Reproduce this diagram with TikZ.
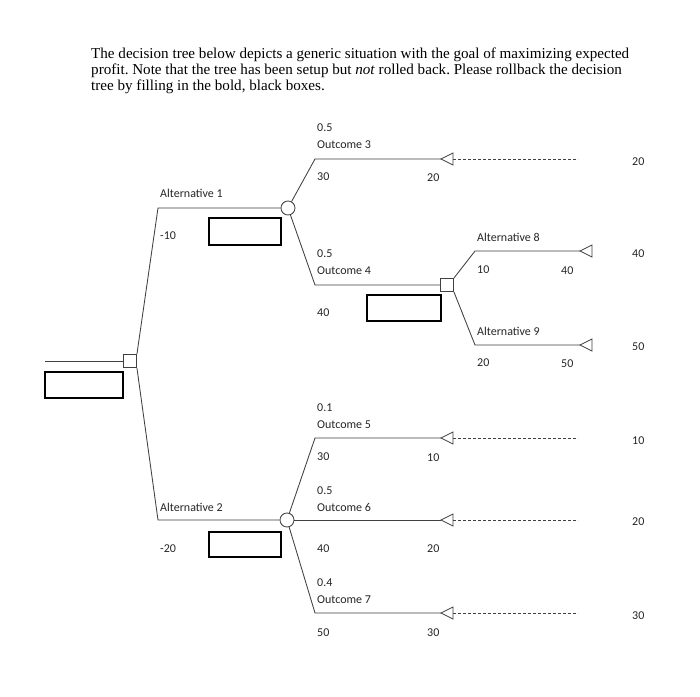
\documentclass[tikz,border=0pt]{standalone}
\usepackage{fontspec}
\setmainfont{Liberation Serif}
\newfontfamily\labfont{Carlito}
\frenchspacing
\begin{document}
\begin{tikzpicture}[x=1pt,y=-1pt,
  conn/.style={draw=black!75, line width=0.85pt},
  dashconn/.style={draw=black!75, line width=0.85pt, dash pattern=on 3pt off 2pt},
  lbl/.style={anchor=west, inner sep=0pt, font=\labfont\fontsize{12}{14}\selectfont, text=black!85},
  title/.style={anchor=base west, inner sep=0pt, font=\fontsize{15.1}{16}\selectfont},
  decision/.style={draw=black!75, line width=0.85pt, fill=white, rectangle, minimum size=13pt, inner sep=0pt},
  chance/.style={draw=black!75, line width=0.85pt, fill=white, circle, minimum size=14pt, inner sep=0pt},
  bbox/.style={draw=black, line width=2.5pt, rectangle, inner sep=0pt},
  term/.style={draw=black!75, line width=0.85pt, fill=white}
]
\useasboundingbox (0,0) rectangle (700,696);
\fill[white] (0,0) rectangle (700,696);

% title
\node[title] (t1) at (91,58) {The decision tree below depicts a generic situation with the goal of maximizing expected};
\node[title] (t2) at (91,74) {profit. Note that the tree has been setup but \textit{not} rolled back. Please rollback the decision};
\node[title] (t3) at (91,90) {tree by filling in the bold, black boxes.};

% nodes
\node[decision] (root) at (130,361) {};
\coordinate (in) at (45,361);
\coordinate (a1) at (158,208);
\coordinate (a2) at (158,520);
\node[chance] (c1) at (288,208) {};
\node[chance] (c2) at (287,520) {};
\node[decision] (d2) at (447,285) {};

\coordinate (o3) at (315,159);
\coordinate (o4) at (315,285);
\coordinate (o5) at (315,438);
\coordinate (o7) at (315,613);
\coordinate (a8) at (475,251);
\coordinate (a9) at (475,345);

% terminal tips
\coordinate (tp3) at (441,159);
\coordinate (tp5) at (441,438);
\coordinate (tp6) at (441,520);
\coordinate (tp7) at (441,613);
\coordinate (tp8) at (580,251);
\coordinate (tp9) at (580,345);
\coordinate (e3) at (578,159);
\coordinate (e5) at (578,438);
\coordinate (e6) at (578,520);
\coordinate (e7) at (578,613);

% connectors
\draw[conn] (in) -- (root.west);
\draw[conn] (root.north east) -- (a1) -- (c1);
\draw[conn] (root.south east) -- (a2) -- (c2);
\draw[conn] (c1) -- (o3) -- (tp3);
\draw[conn] (c1) -- (o4) -- (d2);
\draw[conn] (d2.north east) -- (a8) -- (tp8);
\draw[conn] (d2.south east) -- (a9) -- (tp9);
\draw[conn] (c2) -- (o5) -- (tp5);
\draw[conn] (c2) -- (tp6);
\draw[conn] (c2) -- (o7) -- (tp7);

% terminal triangles and dashed lines
\foreach \t in {tp3,tp5,tp6,tp7,tp8,tp9}{
  \draw[term] (\t) -- ++(12,-6) -- ++(0,12) -- cycle;
}
\draw[dashconn] ([xshift=12pt]tp3) -- (e3);
\draw[dashconn] ([xshift=12pt]tp5) -- (e5);
\draw[dashconn] ([xshift=12pt]tp6) -- (e6);
\draw[dashconn] ([xshift=12pt]tp7) -- (e7);

% bold boxes
\node[bbox, minimum width=78pt, minimum height=26pt] (b0) at (84,385) {};
\node[bbox, minimum width=72pt, minimum height=27pt] (b1) at (245,231.5) {};
\node[bbox, minimum width=74pt, minimum height=26pt] (b2) at (404,308) {};
\node[bbox, minimum width=72pt, minimum height=25pt] (b3) at (245,544.5) {};

% labels
\node[lbl] (l1) at (160,193) {Alternative 1};
\node[lbl] (l2) at (160,236) {-10};
\node[lbl] (l3) at (160,507) {Alternative 2};
\node[lbl] (l4) at (160,549) {-20};

\node[lbl] (p3) at (317,128) {0.5};
\node[lbl] (n3) at (317,145) {Outcome 3};
\node[lbl] (v3) at (317,177) {30};
\node[lbl] (s3) at (427,178) {20};
\node[lbl] (r3) at (632,162) {20};

\node[lbl] (p4) at (317,254) {0.5};
\node[lbl] (n4) at (317,271) {Outcome 4};
\node[lbl] (v4) at (317,313) {40};

\node[lbl] (n8) at (477,237) {Alternative 8};
\node[lbl] (v8) at (477,270) {10};
\node[lbl] (s8) at (561,271) {40};
\node[lbl] (r8) at (632,254) {40};

\node[lbl] (n9) at (477,331) {Alternative 9};
\node[lbl] (v9) at (477,363) {20};
\node[lbl] (s9) at (561,364) {50};
\node[lbl] (r9) at (632,347) {50};

\node[lbl] (p5) at (317,408) {0.1};
\node[lbl] (n5) at (317,425) {Outcome 5};
\node[lbl] (v5) at (317,457) {30};
\node[lbl] (s5) at (427,458) {10};
\node[lbl] (r5) at (632,441) {10};

\node[lbl] (p6) at (317,491) {0.5};
\node[lbl] (n6) at (317,507) {Outcome 6};
\node[lbl] (v6) at (317,549) {40};
\node[lbl] (s6) at (427,549) {20};
\node[lbl] (r6) at (632,522) {20};

\node[lbl] (p7) at (317,583) {0.4};
\node[lbl] (n7) at (317,600) {Outcome 7};
\node[lbl] (v7) at (317,633) {50};
\node[lbl] (s7) at (427,633) {30};
\node[lbl] (r7) at (632,616) {30};
\end{tikzpicture}
\end{document}
